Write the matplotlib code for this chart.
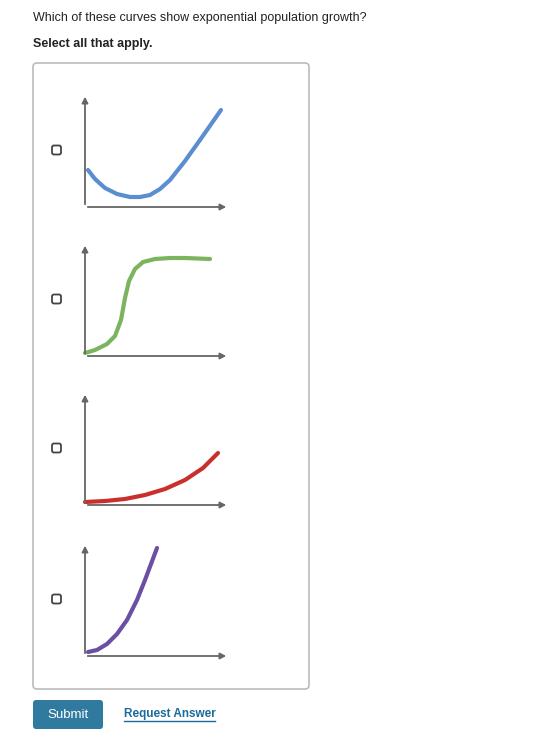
import matplotlib
matplotlib.use("Agg")
import matplotlib.pyplot as plt
from matplotlib.patches import FancyBboxPatch

plt.rcParams['font.family'] = ['Liberation Sans', 'DejaVu Sans']

question = "Which of these curves show exponential population growth?"
instruction = "Select all that apply."
button_label = "Submit"
link_label = "Request Answer"

# curve points (pixel coords relative to each panel's origin at axis corner)
blue_x = [3, 10, 20, 32, 45, 55, 65, 75, 85, 100, 115, 136]
blue_y = [37, 28, 19, 13, 10, 10, 12, 18, 27, 46, 67, 97]
green_x = [0, 10, 22, 30, 36, 40, 44, 50, 58, 70, 85, 100, 125]
green_y = [3, 6, 12, 20, 36, 58, 75, 87, 94, 97, 98, 98, 97]
red_x = [0, 20, 40, 60, 80, 100, 118, 133]
red_y = [3, 4, 6, 10, 16, 25, 37, 52]
purple_x = [3, 12, 22, 32, 42, 52, 60, 66, 72]
purple_y = [4, 6, 12, 22, 36, 56, 76, 92, 108]

panels = [(blue_x, blue_y, "#5b8ed0"), (green_x, green_y, "#7cb35f"),
          (red_x, red_y, "#c9302c"), (purple_x, purple_y, "#6a4fa3")]
origins_y = [207, 356, 505, 656]

fig = plt.figure(figsize=(5.5, 7.52), dpi=100)
ax = fig.add_axes([0, 0, 1, 1])
ax.set_xlim(0, 550); ax.set_ylim(752, 0); ax.axis("off")

ax.text(33, 18, question, fontsize=9, va="center", ha="left", color="#222")
ax.text(33, 44, instruction, fontsize=9, va="center", ha="left", weight="bold", color="#222")
ax.add_patch(FancyBboxPatch((33, 63), 276, 626, boxstyle="round,pad=0,rounding_size=4",
                            fc="white", ec="#bbbbbb", lw=1.2))

ox = 85
for (xs, ys, c), oy in zip(panels, origins_y):
    cy = oy - 57
    ax.add_patch(FancyBboxPatch((52, cy - 4.5), 9, 9, boxstyle="round,pad=0,rounding_size=2",
                                fc="white", ec="#444", lw=1.3))
    ax.annotate("", xy=(ox, oy - 113), xytext=(ox, oy),
                arrowprops=dict(arrowstyle="-|>,head_length=0.35,head_width=0.18", color="#666", lw=1.3))
    ax.annotate("", xy=(ox + 144, oy), xytext=(ox, oy),
                arrowprops=dict(arrowstyle="-|>,head_length=0.35,head_width=0.18", color="#666", lw=1.3))
    ax.plot([ox + x for x in xs], [oy - y for y in ys], color=c, lw=3,
            solid_capstyle="round", solid_joinstyle="round")

ax.add_patch(FancyBboxPatch((33, 700), 70, 29, boxstyle="round,pad=0,rounding_size=3",
                            fc="#2f7a9e", ec="none"))
ax.text(68, 714.5, button_label, fontsize=9.5, color="white", ha="center", va="center")
ax.text(124, 714.5, link_label, fontsize=8.5, color="#1a6a9a", weight="bold",
        ha="left", va="center")
ax.plot([124, 215], [721, 721], color="#1a6a9a", lw=1)

fig.savefig("out.png", dpi=100)
